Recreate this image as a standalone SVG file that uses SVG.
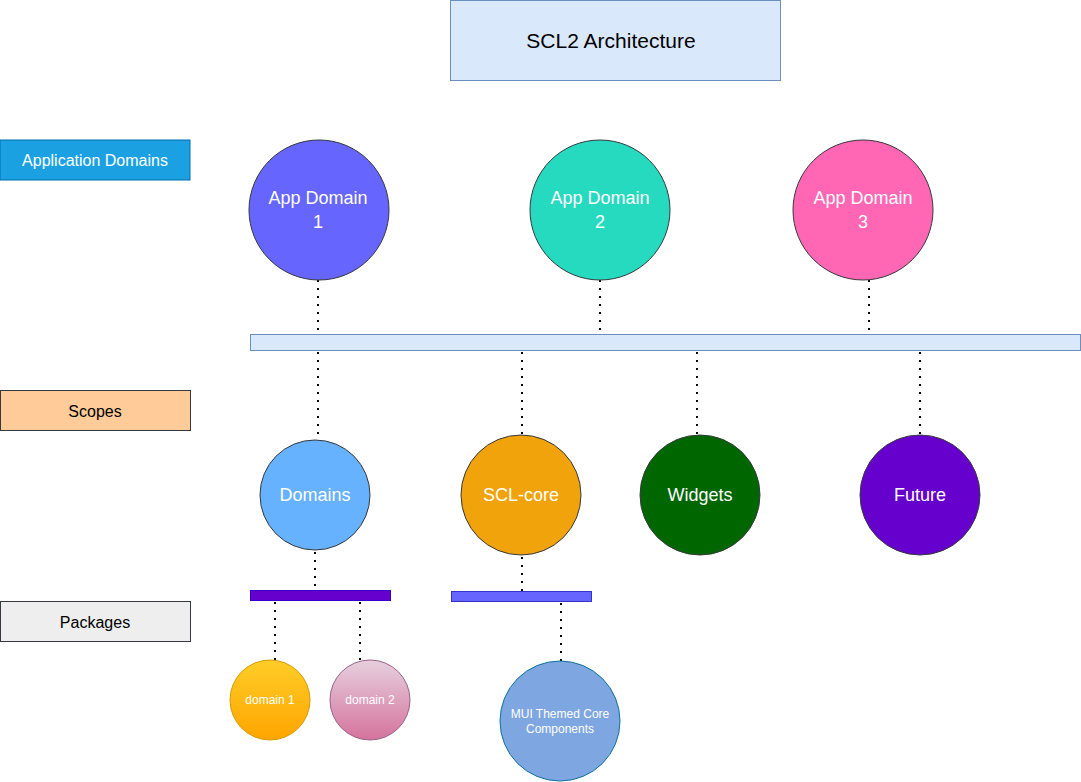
<svg xmlns="http://www.w3.org/2000/svg" width="1081" height="782" viewBox="0 0 1081 782">
<style>
text{font-family:"Liberation Sans",Arial,sans-serif;text-anchor:middle;dominant-baseline:central}
.w{fill:#fff}
.dot{stroke:#000;stroke-width:2;stroke-dasharray:2 6;fill:none}
.c{stroke:#36393d;stroke-width:1}
</style>
<defs>
<linearGradient id="g1" x1="0" y1="0" x2="0" y2="1"><stop offset="0" stop-color="#ffcd28"/><stop offset="1" stop-color="#ffa500"/></linearGradient>
<linearGradient id="g2" x1="0" y1="0" x2="0" y2="1"><stop offset="0" stop-color="#e6d0de"/><stop offset="1" stop-color="#d5739d"/></linearGradient>
</defs>
<rect width="1081" height="782" fill="#fff"/>
<g id="connectors">
<line class="dot" x1="318" y1="272" x2="318" y2="334"/>
<line class="dot" x1="600" y1="280" x2="600" y2="334"/>
<line class="dot" x1="869" y1="280" x2="869" y2="334"/>
<line class="dot" x1="318" y1="352" x2="318" y2="440"/>
<line class="dot" x1="522" y1="352" x2="522" y2="437"/>
<line class="dot" x1="697" y1="352" x2="697" y2="437"/>
<line class="dot" x1="920" y1="352" x2="920" y2="437"/>
<line class="dot" x1="315" y1="552" x2="315" y2="590"/>
<line class="dot" x1="522" y1="557" x2="522" y2="591"/>
<line class="dot" x1="275" y1="602" x2="275" y2="660"/>
<line class="dot" x1="360" y1="602" x2="360" y2="660"/>
<line class="dot" x1="561" y1="603" x2="561" y2="661"/>
</g>
<g id="title"><rect x="450.5" y="0.5" width="330" height="80" fill="#dae8fc" stroke="#6c8ebf"/><text x="611" y="40" font-size="21">SCL2  Architecture</text></g>
<g id="lbl-app"><rect x="0" y="140" width="190" height="40" fill="#1ba1e2" stroke="#006eaf"/><text class="w" x="95" y="160" font-size="16">Application Domains</text></g>
<g id="lbl-scopes"><rect x="0.5" y="390.5" width="190" height="40" fill="#ffcc99" stroke="#36393d"/><text x="95" y="411" font-size="16">Scopes</text></g>
<g id="lbl-packages"><rect x="0.5" y="601.5" width="190" height="40" fill="#eeeeee" stroke="#36393d"/><text x="95" y="622" font-size="16">Packages</text></g>
<g id="ad1"><circle class="c" cx="319" cy="210" r="70" fill="#6666ff"/><text class="w" x="318" y="198" font-size="18">App Domain</text><text class="w" x="318" y="222" font-size="18">1</text></g>
<g id="ad2"><circle class="c" cx="600" cy="210" r="70" fill="#26dac0"/><text class="w" x="600" y="198" font-size="18">App Domain</text><text class="w" x="600" y="222" font-size="18">2</text></g>
<g id="ad3"><circle class="c" cx="863" cy="210" r="70" fill="#ff66b3"/><text class="w" x="863" y="198" font-size="18">App Domain</text><text class="w" x="863" y="222" font-size="18">3</text></g>
<g id="bar"><rect x="250.5" y="334.5" width="830" height="16" fill="#dae8fc" stroke="#6c8ebf"/></g>
<g id="domains"><circle class="c" cx="315" cy="495" r="55" fill="#66b2ff" stroke="#10739e"/><text class="w" x="315" y="495" font-size="18">Domains</text></g>
<g id="sclcore"><circle class="c" cx="521" cy="495" r="60" fill="#f0a30a" stroke="#bd7000"/><text class="w" x="521" y="495" font-size="18">SCL-core</text></g>
<g id="widgets"><circle class="c" cx="700" cy="495" r="60" fill="#006600"/><text class="w" x="700" y="495" font-size="18">Widgets</text></g>
<g id="future"><circle class="c" cx="920" cy="495" r="60" fill="#6600cc"/><text class="w" x="920" y="495" font-size="18">Future</text></g>
<g id="bar-domains"><rect x="250.5" y="590.5" width="140" height="10" fill="#6600cc" stroke="#3700cc"/></g>
<g id="bar-core"><rect x="451.5" y="591.5" width="140" height="10" fill="#6666ff" stroke="#3333cc"/></g>
<g id="domain1"><circle cx="270" cy="700" r="40" fill="url(#g1)" stroke="#d79b00"/><text class="w" x="270" y="700" font-size="12">domain 1</text></g>
<g id="domain2"><circle cx="370" cy="700" r="40" fill="url(#g2)" stroke="#996185"/><text class="w" x="370" y="700" font-size="12">domain 2</text></g>
<g id="mui"><circle cx="560" cy="721" r="60" fill="#7ea6e0" stroke="#10739e"/><text class="w" x="560" y="714" font-size="12">MUI Themed Core</text><text class="w" x="560" y="729" font-size="12">Components</text></g>
</svg>
